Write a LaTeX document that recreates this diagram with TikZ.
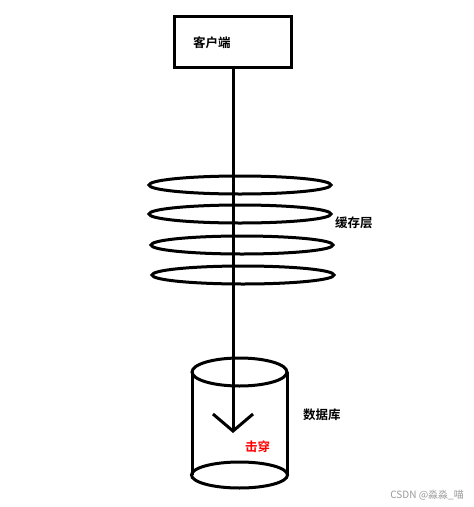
\documentclass[tikz,border=0pt]{standalone}
\usepackage{fontspec}
\newfontfamily\cjk[BoldFont={Noto Sans CJK SC Bold}]{Noto Sans CJK SC}
\usetikzlibrary{arrows.meta}
\tikzset{
  lbl/.style={font=\cjk\bfseries\fontsize{12.5}{14}\selectfont, inner sep=0pt},
  ring/.style={line width=3pt},
}
\begin{document}
\begin{tikzpicture}[x=1pt,y=-1pt]
			\useasboundingbox[fill=white] (0,0) rectangle (474,507);
			% client box
			\node[draw,line width=3pt,minimum width=117pt,minimum height=51pt,inner sep=0pt] (box) at (233,42) {};
			\node[lbl,anchor=west] (client) at (193,43) {客户端};
			\coordinate (tip) at (233,433);
			% cache rings
			\foreach \y/\d in {185/0,214/0,245/2,275/3} {
					\draw[ring] (240+\d,\y) ellipse (91pt and 9pt);
				}
			\node[lbl,anchor=west] (cache) at (335,223) {缓存层};
			% database
			\draw[line width=3pt] (192,372) -- (192,475);
			\draw[line width=3pt] (287,372) -- (287,475);
			\draw[line width=3pt] (239.5,372) ellipse (47.5pt and 14pt);
			\draw[line width=3pt] (239.5,475) ellipse (48pt and 13pt);
			\node[lbl,anchor=west] (db) at (303,415) {数据库};
			\node[lbl,anchor=west,text=red] (hit) at (245,447) {击穿};
			\draw[line width=3pt,-{Straight Barb[length=17pt,width=40pt,line width=3pt]}] (box.south) -- (tip);
			\node[font=\cjk\fontsize{10}{12}\selectfont,text=black!40,anchor=east,inner sep=0pt] (mark) at (464,495) {CSDN @淼淼\_喵};
		\end{tikzpicture}
\end{document}
